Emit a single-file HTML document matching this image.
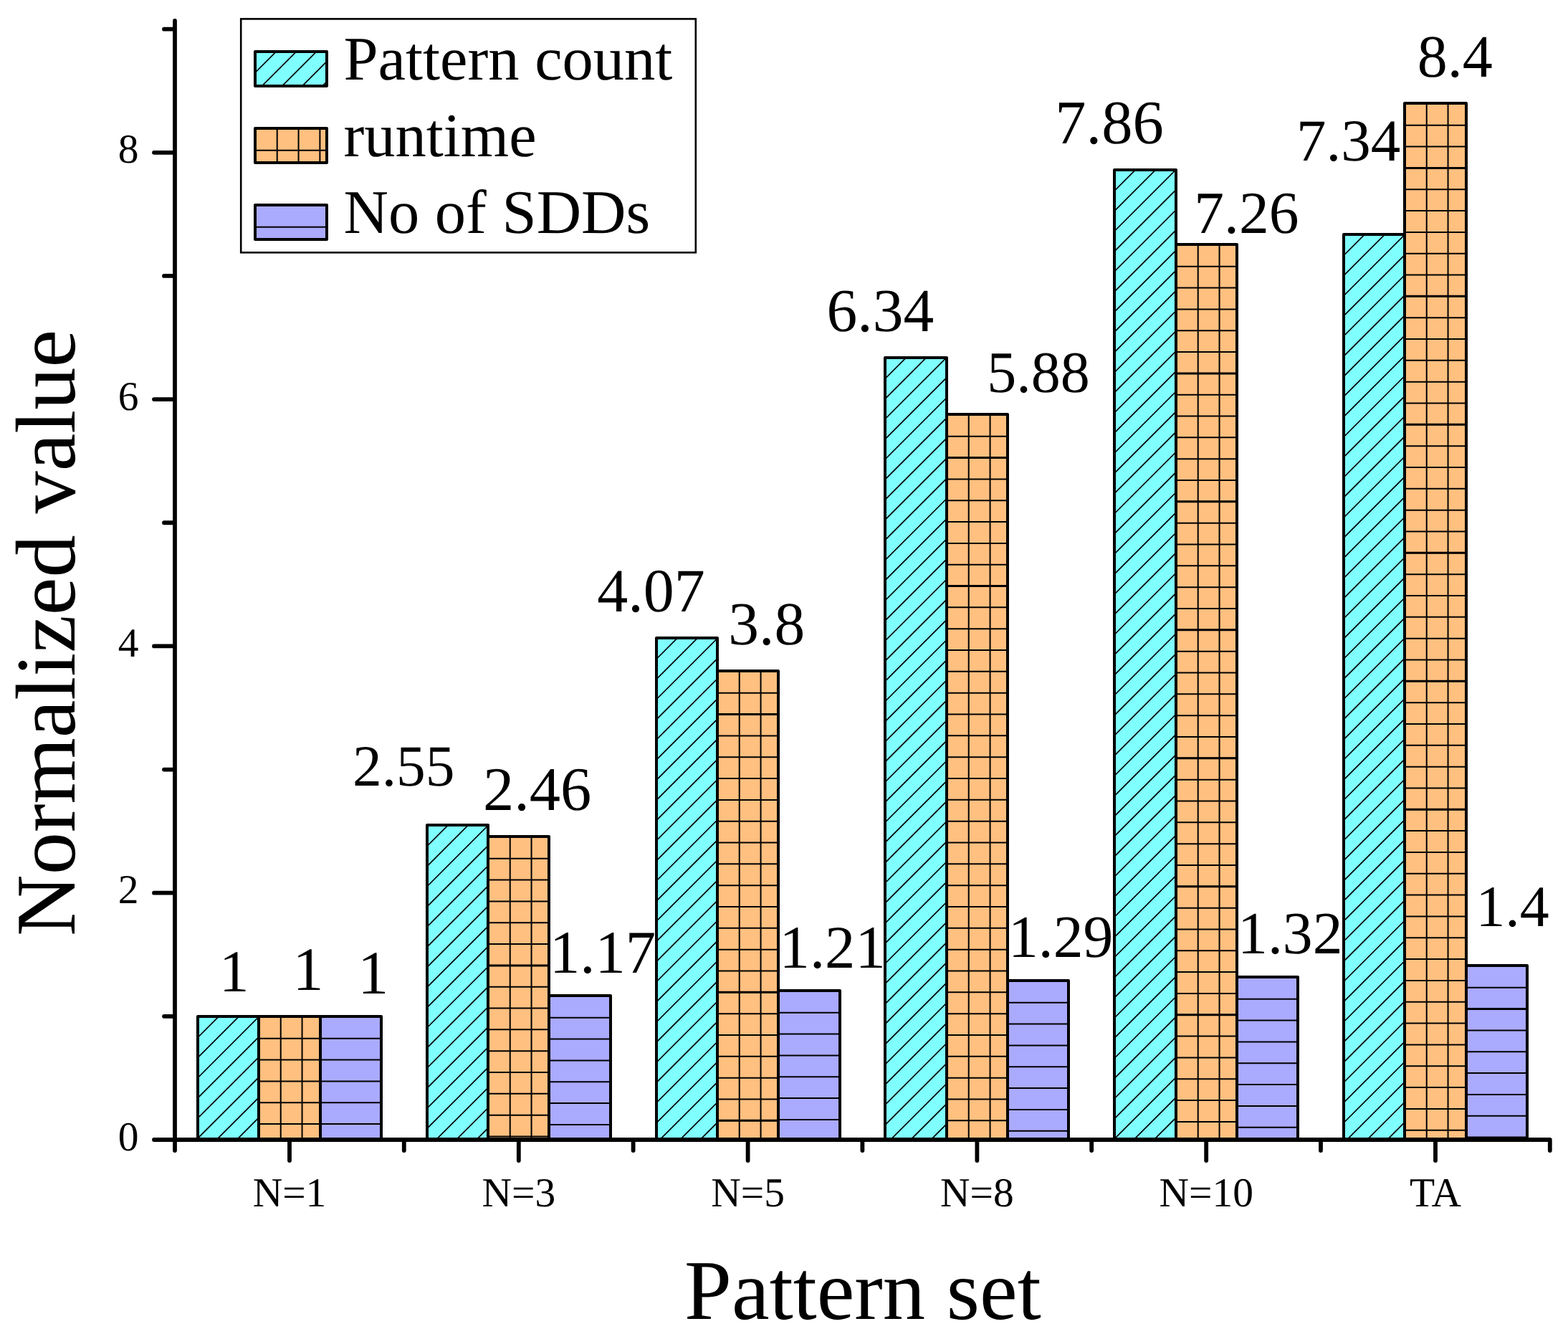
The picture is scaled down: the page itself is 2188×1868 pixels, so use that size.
<!DOCTYPE html>
<html lang="en"><head><meta charset="utf-8"><title>Normalized value by pattern set</title>
<style>html,body{margin:0;padding:0;background:#fff}body{width:2188px;height:1868px;overflow:hidden}svg{display:block;text-rendering:geometricPrecision}</style></head>
<body>
<svg width="2188" height="1868" viewBox="0 0 2188 1868" font-family='"Liberation Serif", serif' fill="#000">
<rect x="276" y="1418" width="85" height="172" fill="#80FFFF"/><clipPath id="c1"><rect x="276" y="1418" width="85" height="172"/></clipPath><path clip-path="url(#c1)" d="M307.34 1416L274 1449.34M335.48 1416L274 1477.48M363.62 1416L274 1505.62M391.76 1416L274 1533.76M419.9 1416L274 1561.9M448.04 1416L274 1590.04M476.18 1416L274 1618.18M504.32 1416L274 1646.32M532.46 1416L274 1674.46" fill="none" stroke="#000" stroke-width="1.7"/><rect x="276" y="1418" width="85" height="172" fill="none" stroke="#000" stroke-width="4" stroke-linejoin="round"/>
<rect x="361" y="1418" width="86" height="172" fill="#FFC080"/><clipPath id="c2"><rect x="361" y="1418" width="86" height="172"/></clipPath><path clip-path="url(#c2)" d="M361 1448.73H447M361 1478.56H447M361 1508.39H447M361 1538.22H447M361 1568.05H447M391.73 1418V1590M421.56 1418V1590" fill="none" stroke="#000" stroke-width="2"/><rect x="361" y="1418" width="86" height="172" fill="none" stroke="#000" stroke-width="4" stroke-linejoin="round"/>
<rect x="447" y="1418" width="85" height="172" fill="#AAAAFF"/><clipPath id="c3"><rect x="447" y="1418" width="85" height="172"/></clipPath><path clip-path="url(#c3)" d="M447 1448.73H532M447 1478.56H532M447 1508.39H532M447 1538.22H532M447 1568.05H532" fill="none" stroke="#000" stroke-width="2"/><rect x="447" y="1418" width="85" height="172" fill="none" stroke="#000" stroke-width="4" stroke-linejoin="round"/>
<rect x="596" y="1151" width="85" height="439" fill="#80FFFF"/><clipPath id="c4"><rect x="596" y="1151" width="85" height="439"/></clipPath><path clip-path="url(#c4)" d="M627.34 1149L594 1182.34M655.48 1149L594 1210.48M683.62 1149L594 1238.62M711.76 1149L594 1266.76M739.9 1149L594 1294.9M768.04 1149L594 1323.04M796.18 1149L594 1351.18M824.32 1149L594 1379.32M852.46 1149L594 1407.46M880.6 1149L594 1435.6M908.74 1149L594 1463.74M936.88 1149L594 1491.88M965.02 1149L594 1520.02M993.16 1149L594 1548.16M1021.3 1149L594 1576.3M1049.44 1149L594 1604.44M1077.58 1149L594 1632.58M1105.72 1149L594 1660.72" fill="none" stroke="#000" stroke-width="1.7"/><rect x="596" y="1151" width="85" height="439" fill="none" stroke="#000" stroke-width="4" stroke-linejoin="round"/>
<rect x="681" y="1167" width="85" height="423" fill="#FFC080"/><clipPath id="c5"><rect x="681" y="1167" width="85" height="423"/></clipPath><path clip-path="url(#c5)" d="M681 1197.73H766M681 1227.56H766M681 1257.39H766M681 1287.22H766M681 1317.05H766M681 1346.88H766M681 1376.71H766M681 1406.54H766M681 1436.37H766M681 1466.2H766M681 1496.03H766M681 1525.86H766M681 1555.69H766M681 1585.52H766M711.73 1167V1590M741.56 1167V1590" fill="none" stroke="#000" stroke-width="2"/><path clip-path="url(#c5)" d="M681 1346.88H766" fill="none" stroke="#000" stroke-width="3"/><rect x="681" y="1167" width="85" height="423" fill="none" stroke="#000" stroke-width="4" stroke-linejoin="round"/>
<rect x="766" y="1389" width="86" height="201" fill="#AAAAFF"/><clipPath id="c6"><rect x="766" y="1389" width="86" height="201"/></clipPath><path clip-path="url(#c6)" d="M766 1419.73H852M766 1449.56H852M766 1479.39H852M766 1509.22H852M766 1539.05H852M766 1568.88H852" fill="none" stroke="#000" stroke-width="2"/><rect x="766" y="1389" width="86" height="201" fill="none" stroke="#000" stroke-width="4" stroke-linejoin="round"/>
<rect x="916" y="890" width="85" height="700" fill="#80FFFF"/><clipPath id="c7"><rect x="916" y="890" width="85" height="700"/></clipPath><path clip-path="url(#c7)" d="M947.34 888L914 921.34M975.48 888L914 949.48M1003.62 888L914 977.62M1031.76 888L914 1005.76M1059.9 888L914 1033.9M1088.04 888L914 1062.04M1116.18 888L914 1090.18M1144.32 888L914 1118.32M1172.46 888L914 1146.46M1200.6 888L914 1174.6M1228.74 888L914 1202.74M1256.88 888L914 1230.88M1285.02 888L914 1259.02M1313.16 888L914 1287.16M1341.3 888L914 1315.3M1369.44 888L914 1343.44M1397.58 888L914 1371.58M1425.72 888L914 1399.72M1453.86 888L914 1427.86M1482 888L914 1456M1510.14 888L914 1484.14M1538.28 888L914 1512.28M1566.42 888L914 1540.42M1594.56 888L914 1568.56M1622.7 888L914 1596.7M1650.84 888L914 1624.84M1678.98 888L914 1652.98" fill="none" stroke="#000" stroke-width="1.7"/><rect x="916" y="890" width="85" height="700" fill="none" stroke="#000" stroke-width="4" stroke-linejoin="round"/>
<rect x="1001" y="936" width="85" height="654" fill="#FFC080"/><clipPath id="c8"><rect x="1001" y="936" width="85" height="654"/></clipPath><path clip-path="url(#c8)" d="M1001 966.73H1086M1001 996.56H1086M1001 1026.39H1086M1001 1056.22H1086M1001 1086.05H1086M1001 1115.88H1086M1001 1145.71H1086M1001 1175.54H1086M1001 1205.37H1086M1001 1235.2H1086M1001 1265.03H1086M1001 1294.86H1086M1001 1324.69H1086M1001 1354.52H1086M1001 1384.35H1086M1001 1414.18H1086M1001 1444.01H1086M1001 1473.84H1086M1001 1503.67H1086M1001 1533.5H1086M1001 1563.33H1086M1031.73 936V1590M1061.56 936V1590" fill="none" stroke="#000" stroke-width="2"/><path clip-path="url(#c8)" d="M1001 996.56H1086M1001 1384.35H1086M1001 1563.33H1086" fill="none" stroke="#000" stroke-width="3"/><rect x="1001" y="936" width="85" height="654" fill="none" stroke="#000" stroke-width="4" stroke-linejoin="round"/>
<rect x="1086" y="1382" width="86" height="208" fill="#AAAAFF"/><clipPath id="c9"><rect x="1086" y="1382" width="86" height="208"/></clipPath><path clip-path="url(#c9)" d="M1086 1412.73H1172M1086 1442.56H1172M1086 1472.39H1172M1086 1502.22H1172M1086 1532.05H1172M1086 1561.88H1172" fill="none" stroke="#000" stroke-width="2"/><rect x="1086" y="1382" width="86" height="208" fill="none" stroke="#000" stroke-width="4" stroke-linejoin="round"/>
<rect x="1235" y="499" width="86" height="1091" fill="#80FFFF"/><clipPath id="c10"><rect x="1235" y="499" width="86" height="1091"/></clipPath><path clip-path="url(#c10)" d="M1266.34 497L1233 530.34M1294.48 497L1233 558.48M1322.62 497L1233 586.62M1350.76 497L1233 614.76M1378.9 497L1233 642.9M1407.04 497L1233 671.04M1435.18 497L1233 699.18M1463.32 497L1233 727.32M1491.46 497L1233 755.46M1519.6 497L1233 783.6M1547.74 497L1233 811.74M1575.88 497L1233 839.88M1604.02 497L1233 868.02M1632.16 497L1233 896.16M1660.3 497L1233 924.3M1688.44 497L1233 952.44M1716.58 497L1233 980.58M1744.72 497L1233 1008.72M1772.86 497L1233 1036.86M1801 497L1233 1065M1829.14 497L1233 1093.14M1857.28 497L1233 1121.28M1885.42 497L1233 1149.42M1913.56 497L1233 1177.56M1941.7 497L1233 1205.7M1969.84 497L1233 1233.84M1997.98 497L1233 1261.98M2026.12 497L1233 1290.12M2054.26 497L1233 1318.26M2082.4 497L1233 1346.4M2110.54 497L1233 1374.54M2138.68 497L1233 1402.68M2166.82 497L1233 1430.82M2194.96 497L1233 1458.96M2223.1 497L1233 1487.1M2251.24 497L1233 1515.24M2279.38 497L1233 1543.38M2307.52 497L1233 1571.52M2335.66 497L1233 1599.66M2363.8 497L1233 1627.8M2391.94 497L1233 1655.94" fill="none" stroke="#000" stroke-width="1.7"/><rect x="1235" y="499" width="86" height="1091" fill="none" stroke="#000" stroke-width="4" stroke-linejoin="round"/>
<rect x="1321" y="578" width="85" height="1012" fill="#FFC080"/><clipPath id="c11"><rect x="1321" y="578" width="85" height="1012"/></clipPath><path clip-path="url(#c11)" d="M1321 608.73H1406M1321 638.56H1406M1321 668.39H1406M1321 698.22H1406M1321 728.05H1406M1321 757.88H1406M1321 787.71H1406M1321 817.54H1406M1321 847.37H1406M1321 877.2H1406M1321 907.03H1406M1321 936.86H1406M1321 966.69H1406M1321 996.52H1406M1321 1026.35H1406M1321 1056.18H1406M1321 1086.01H1406M1321 1115.84H1406M1321 1145.67H1406M1321 1175.5H1406M1321 1205.33H1406M1321 1235.16H1406M1321 1264.99H1406M1321 1294.82H1406M1321 1324.65H1406M1321 1354.48H1406M1321 1384.31H1406M1321 1414.14H1406M1321 1443.97H1406M1321 1473.8H1406M1321 1503.63H1406M1321 1533.46H1406M1321 1563.29H1406M1351.73 578V1590M1381.56 578V1590" fill="none" stroke="#000" stroke-width="2"/><path clip-path="url(#c11)" d="M1321 638.56H1406M1321 817.54H1406" fill="none" stroke="#000" stroke-width="3"/><rect x="1321" y="578" width="85" height="1012" fill="none" stroke="#000" stroke-width="4" stroke-linejoin="round"/>
<rect x="1406" y="1368" width="85" height="222" fill="#AAAAFF"/><clipPath id="c12"><rect x="1406" y="1368" width="85" height="222"/></clipPath><path clip-path="url(#c12)" d="M1406 1398.73H1491M1406 1428.56H1491M1406 1458.39H1491M1406 1488.22H1491M1406 1518.05H1491M1406 1547.88H1491M1406 1577.71H1491" fill="none" stroke="#000" stroke-width="2"/><rect x="1406" y="1368" width="85" height="222" fill="none" stroke="#000" stroke-width="4" stroke-linejoin="round"/>
<rect x="1555" y="237" width="86" height="1353" fill="#80FFFF"/><clipPath id="c13"><rect x="1555" y="237" width="86" height="1353"/></clipPath><path clip-path="url(#c13)" d="M1586.34 235L1553 268.34M1614.48 235L1553 296.48M1642.62 235L1553 324.62M1670.76 235L1553 352.76M1698.9 235L1553 380.9M1727.04 235L1553 409.04M1755.18 235L1553 437.18M1783.32 235L1553 465.32M1811.46 235L1553 493.46M1839.6 235L1553 521.6M1867.74 235L1553 549.74M1895.88 235L1553 577.88M1924.02 235L1553 606.02M1952.16 235L1553 634.16M1980.3 235L1553 662.3M2008.44 235L1553 690.44M2036.58 235L1553 718.58M2064.72 235L1553 746.72M2092.86 235L1553 774.86M2121 235L1553 803M2149.14 235L1553 831.14M2177.28 235L1553 859.28M2205.42 235L1553 887.42M2233.56 235L1553 915.56M2261.7 235L1553 943.7M2289.84 235L1553 971.84M2317.98 235L1553 999.98M2346.12 235L1553 1028.12M2374.26 235L1553 1056.26M2402.4 235L1553 1084.4M2430.54 235L1553 1112.54M2458.68 235L1553 1140.68M2486.82 235L1553 1168.82M2514.96 235L1553 1196.96M2543.1 235L1553 1225.1M2571.24 235L1553 1253.24M2599.38 235L1553 1281.38M2627.52 235L1553 1309.52M2655.66 235L1553 1337.66M2683.8 235L1553 1365.8M2711.94 235L1553 1393.94M2740.08 235L1553 1422.08M2768.22 235L1553 1450.22M2796.36 235L1553 1478.36M2824.5 235L1553 1506.5M2852.64 235L1553 1534.64M2880.78 235L1553 1562.78M2908.92 235L1553 1590.92M2937.06 235L1553 1619.06M2965.2 235L1553 1647.2M2993.34 235L1553 1675.34" fill="none" stroke="#000" stroke-width="1.7"/><rect x="1555" y="237" width="86" height="1353" fill="none" stroke="#000" stroke-width="4" stroke-linejoin="round"/>
<rect x="1641" y="341" width="85" height="1249" fill="#FFC080"/><clipPath id="c14"><rect x="1641" y="341" width="85" height="1249"/></clipPath><path clip-path="url(#c14)" d="M1641 371.73H1726M1641 401.56H1726M1641 431.39H1726M1641 461.22H1726M1641 491.05H1726M1641 520.88H1726M1641 550.71H1726M1641 580.54H1726M1641 610.37H1726M1641 640.2H1726M1641 670.03H1726M1641 699.86H1726M1641 729.69H1726M1641 759.52H1726M1641 789.35H1726M1641 819.18H1726M1641 849.01H1726M1641 878.84H1726M1641 908.67H1726M1641 938.5H1726M1641 968.33H1726M1641 998.16H1726M1641 1027.99H1726M1641 1057.82H1726M1641 1087.65H1726M1641 1117.48H1726M1641 1147.31H1726M1641 1177.14H1726M1641 1206.97H1726M1641 1236.8H1726M1641 1266.63H1726M1641 1296.46H1726M1641 1326.29H1726M1641 1356.12H1726M1641 1385.95H1726M1641 1415.78H1726M1641 1445.61H1726M1641 1475.44H1726M1641 1505.27H1726M1641 1535.1H1726M1641 1564.93H1726M1671.73 341V1590M1701.56 341V1590" fill="none" stroke="#000" stroke-width="2"/><path clip-path="url(#c14)" d="M1641 520.88H1726M1641 699.86H1726M1641 878.84H1726M1641 1057.82H1726M1641 1236.8H1726M1641 1415.78H1726" fill="none" stroke="#000" stroke-width="3"/><rect x="1641" y="341" width="85" height="1249" fill="none" stroke="#000" stroke-width="4" stroke-linejoin="round"/>
<rect x="1726" y="1363" width="85" height="227" fill="#AAAAFF"/><clipPath id="c15"><rect x="1726" y="1363" width="85" height="227"/></clipPath><path clip-path="url(#c15)" d="M1726 1393.73H1811M1726 1423.56H1811M1726 1453.39H1811M1726 1483.22H1811M1726 1513.05H1811M1726 1542.88H1811M1726 1572.71H1811" fill="none" stroke="#000" stroke-width="2"/><rect x="1726" y="1363" width="85" height="227" fill="none" stroke="#000" stroke-width="4" stroke-linejoin="round"/>
<rect x="1875" y="327" width="85" height="1263" fill="#80FFFF"/><clipPath id="c16"><rect x="1875" y="327" width="85" height="1263"/></clipPath><path clip-path="url(#c16)" d="M1906.34 325L1873 358.34M1934.48 325L1873 386.48M1962.62 325L1873 414.62M1990.76 325L1873 442.76M2018.9 325L1873 470.9M2047.04 325L1873 499.04M2075.18 325L1873 527.18M2103.32 325L1873 555.32M2131.46 325L1873 583.46M2159.6 325L1873 611.6M2187.74 325L1873 639.74M2215.88 325L1873 667.88M2244.02 325L1873 696.02M2272.16 325L1873 724.16M2300.3 325L1873 752.3M2328.44 325L1873 780.44M2356.58 325L1873 808.58M2384.72 325L1873 836.72M2412.86 325L1873 864.86M2441 325L1873 893M2469.14 325L1873 921.14M2497.28 325L1873 949.28M2525.42 325L1873 977.42M2553.56 325L1873 1005.56M2581.7 325L1873 1033.7M2609.84 325L1873 1061.84M2637.98 325L1873 1089.98M2666.12 325L1873 1118.12M2694.26 325L1873 1146.26M2722.4 325L1873 1174.4M2750.54 325L1873 1202.54M2778.68 325L1873 1230.68M2806.82 325L1873 1258.82M2834.96 325L1873 1286.96M2863.1 325L1873 1315.1M2891.24 325L1873 1343.24M2919.38 325L1873 1371.38M2947.52 325L1873 1399.52M2975.66 325L1873 1427.66M3003.8 325L1873 1455.8M3031.94 325L1873 1483.94M3060.08 325L1873 1512.08M3088.22 325L1873 1540.22M3116.36 325L1873 1568.36M3144.5 325L1873 1596.5M3172.64 325L1873 1624.64M3200.78 325L1873 1652.78" fill="none" stroke="#000" stroke-width="1.7"/><rect x="1875" y="327" width="85" height="1263" fill="none" stroke="#000" stroke-width="4" stroke-linejoin="round"/>
<rect x="1960" y="144" width="86" height="1446" fill="#FFC080"/><clipPath id="c17"><rect x="1960" y="144" width="86" height="1446"/></clipPath><path clip-path="url(#c17)" d="M1960 174.73H2046M1960 204.56H2046M1960 234.39H2046M1960 264.22H2046M1960 294.05H2046M1960 323.88H2046M1960 353.71H2046M1960 383.54H2046M1960 413.37H2046M1960 443.2H2046M1960 473.03H2046M1960 502.86H2046M1960 532.69H2046M1960 562.52H2046M1960 592.35H2046M1960 622.18H2046M1960 652.01H2046M1960 681.84H2046M1960 711.67H2046M1960 741.5H2046M1960 771.33H2046M1960 801.16H2046M1960 830.99H2046M1960 860.82H2046M1960 890.65H2046M1960 920.48H2046M1960 950.31H2046M1960 980.14H2046M1960 1009.97H2046M1960 1039.8H2046M1960 1069.63H2046M1960 1099.46H2046M1960 1129.29H2046M1960 1159.12H2046M1960 1188.95H2046M1960 1218.78H2046M1960 1248.61H2046M1960 1278.44H2046M1960 1308.27H2046M1960 1338.1H2046M1960 1367.93H2046M1960 1397.76H2046M1960 1427.59H2046M1960 1457.42H2046M1960 1487.25H2046M1960 1517.08H2046M1960 1546.91H2046M1960 1576.74H2046M1990.73 144V1590M2020.56 144V1590" fill="none" stroke="#000" stroke-width="2"/><path clip-path="url(#c17)" d="M1960 234.39H2046M1960 413.37H2046M1960 592.35H2046M1960 771.33H2046M1960 950.31H2046M1960 1129.29H2046" fill="none" stroke="#000" stroke-width="3"/><rect x="1960" y="144" width="86" height="1446" fill="none" stroke="#000" stroke-width="4" stroke-linejoin="round"/>
<rect x="2046" y="1347" width="85" height="243" fill="#AAAAFF"/><clipPath id="c18"><rect x="2046" y="1347" width="85" height="243"/></clipPath><path clip-path="url(#c18)" d="M2046 1377.73H2131M2046 1407.56H2131M2046 1437.39H2131M2046 1467.22H2131M2046 1497.05H2131M2046 1526.88H2131M2046 1556.71H2131M2046 1586.54H2131" fill="none" stroke="#000" stroke-width="2"/><path clip-path="url(#c18)" d="M2046 1407.56H2131" fill="none" stroke="#000" stroke-width="3"/><rect x="2046" y="1347" width="85" height="243" fill="none" stroke="#000" stroke-width="4" stroke-linejoin="round"/>
<path d="M244 29V1590M244 1590H2162.8M215 1590H244M229 1417.85H244M215 1245.7H244M229 1073.55H244M215 901.4H244M229 729.25H244M215 557.1H244M229 384.95H244M215 212.8H244M229 40.65H244M244 1590V1605M563.8 1590V1605M883.6 1590V1605M1203.4 1590V1605M1523.2 1590V1605M1843 1590V1605M2162.8 1590V1605M404 1590V1619M723.8 1590V1619M1043.6 1590V1619M1363.4 1590V1619M1683.2 1590V1619M2003 1590V1619" fill="none" stroke="#000" stroke-width="5.8" stroke-linecap="round"/>
<text x="193.6" y="1604.5" font-size="57.5" text-anchor="end">0</text>
<text x="193.6" y="1260.2" font-size="57.5" text-anchor="end">2</text>
<text x="193.6" y="915.9" font-size="57.5" text-anchor="end">4</text>
<text x="193.6" y="571.6" font-size="57.5" text-anchor="end">6</text>
<text x="193.6" y="227.3" font-size="57.5" text-anchor="end">8</text>
<text x="404" y="1682.6" font-size="57.5" text-anchor="middle">N=1</text>
<text x="723.8" y="1682.6" font-size="57.5" text-anchor="middle">N=3</text>
<text x="1043.6" y="1682.6" font-size="57.5" text-anchor="middle">N=5</text>
<text x="1363.4" y="1682.6" font-size="57.5" text-anchor="middle">N=8</text>
<text x="1683.2" y="1682.6" font-size="57.5" text-anchor="middle">N=10</text>
<text x="2003" y="1682.6" font-size="57.5" text-anchor="middle">TA</text>
<text x="955" y="1840.3" font-size="118.7" text-anchor="start">Pattern set</text>
<text transform="translate(104 1306) rotate(-90)" font-size="118.6">Normalized value</text>
<rect x="336.2" y="26.4" width="634.6" height="325.9" fill="#fff" stroke="#000" stroke-width="2.6"/>
<rect x="356" y="72" width="100" height="48" fill="#80FFFF"/><clipPath id="c19"><rect x="356" y="72" width="100" height="48"/></clipPath><path clip-path="url(#c19)" d="M387.34 70L354 103.34M415.48 70L354 131.48M443.62 70L354 159.62M471.76 70L354 187.76M499.9 70L354 215.9" fill="none" stroke="#000" stroke-width="1.7"/><rect x="356" y="72" width="100" height="48" fill="none" stroke="#000" stroke-width="4" stroke-linejoin="round"/>
<text x="479.5" y="111" font-size="86.5" text-anchor="start">Pattern count</text>
<rect x="356" y="179" width="100" height="48" fill="#FFC080"/><clipPath id="c20"><rect x="356" y="179" width="100" height="48"/></clipPath><path clip-path="url(#c20)" d="M356 209.73H456M386.73 179V227M416.56 179V227M446.39 179V227" fill="none" stroke="#000" stroke-width="2"/><rect x="356" y="179" width="100" height="48" fill="none" stroke="#000" stroke-width="4" stroke-linejoin="round"/>
<text x="479.5" y="218" font-size="86.5" text-anchor="start">runtime</text>
<rect x="356" y="286" width="100" height="48" fill="#AAAAFF"/><clipPath id="c21"><rect x="356" y="286" width="100" height="48"/></clipPath><path clip-path="url(#c21)" d="M356 316.73H456" fill="none" stroke="#000" stroke-width="2"/><rect x="356" y="286" width="100" height="48" fill="none" stroke="#000" stroke-width="4" stroke-linejoin="round"/>
<text x="479.5" y="325" font-size="86.5" text-anchor="start">No of SDDs</text>
<text x="306" y="1382.8" font-size="83" text-anchor="start">1</text>
<text x="408.4" y="1380.7" font-size="86" text-anchor="start">1</text>
<text x="499.3" y="1385.8" font-size="86" text-anchor="start">1</text>
<text x="491.9" y="1095.6" font-size="81.5" text-anchor="start">2.55</text>
<text x="673.9" y="1130" font-size="86.5" text-anchor="start">2.46</text>
<text x="767" y="1356.9" font-size="84.7" text-anchor="start">1.17</text>
<text x="833.3" y="853.3" font-size="86" text-anchor="start">4.07</text>
<text x="1016.3" y="899.4" font-size="85.5" text-anchor="start">3.8</text>
<text x="1087.6" y="1349.7" font-size="84.7" text-anchor="start">1.21</text>
<text x="1153.6" y="462.1" font-size="85.5" text-anchor="start">6.34</text>
<text x="1377.3" y="547" font-size="82" text-anchor="start">5.88</text>
<text x="1406.9" y="1335.1" font-size="83.7" text-anchor="start">1.29</text>
<text x="1472.3" y="200.4" font-size="86.5" text-anchor="start">7.86</text>
<text x="1666.3" y="325.4" font-size="83.5" text-anchor="start">7.26</text>
<text x="1727.1" y="1329.9" font-size="83.7" text-anchor="start">1.32</text>
<text x="1809.1" y="223.8" font-size="83" text-anchor="start">7.34</text>
<text x="1977.8" y="106.6" font-size="84" text-anchor="start">8.4</text>
<text x="2059.4" y="1291.5" font-size="81.8" text-anchor="start">1.4</text>
</svg>
</body></html>
